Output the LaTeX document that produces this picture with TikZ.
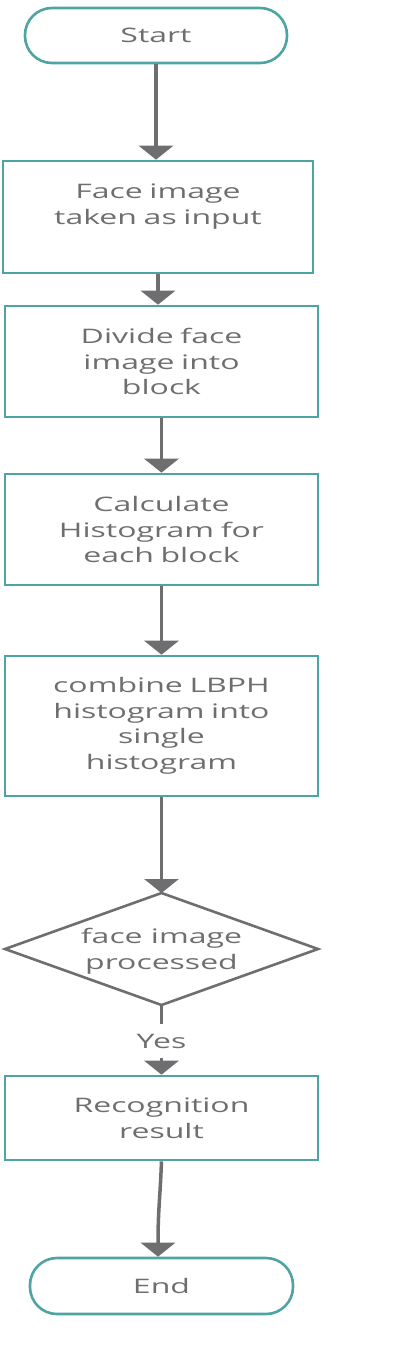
\documentclass[tikz,border=0pt]{standalone}
\usepackage{fontspec}
\setmainfont{Open Sans}[FakeStretch=1.6]
\usetikzlibrary{arrows.meta,positioning}
\definecolor{teal1}{RGB}{78,164,162}
\definecolor{greyline}{RGB}{110,110,112}
\definecolor{greytext}{RGB}{110,110,110}
\begin{document}
\begin{tikzpicture}[x=1pt,y=-1pt,
  every node/.style={font=\fontsize{20}{25.5}\selectfont, text=greytext, align=center},
  procbox/.style={draw=teal1, line width=2.6pt, minimum width=313pt, inner sep=0pt, text width=300pt},
  term/.style={draw=teal1, line width=2.6pt, rounded corners=27pt, inner sep=0pt},
  arr/.style={draw=greyline, line width=3.5pt, -{Triangle[width=34pt,length=14pt]}},
  conn/.style={draw=greyline, line width=3.5pt}
]
\useasboundingbox (0,0) rectangle (409,1371);
\node[term, minimum width=262pt, minimum height=55pt] (start) at (156,35.5) {Start};
\node[procbox, minimum width=310pt, minimum height=112pt] (b1) at (158,217) {Face image\\taken as input\\\mbox{}};
\node[procbox, minimum height=111pt] (b2) at (161.5,361.5) {Divide face\\image into\\block};
\node[procbox, minimum height=111pt] (b3) at (161.5,529.5) {Calculate\\Histogram for\\each block};
\node[procbox, minimum height=140pt] (b4) at (161.5,726) {combine LBPH\\histogram into\\single\\histogram};
\coordinate (dN) at (161.5,893);
\coordinate (dS) at (161.5,1005);
\coordinate (dW) at (5,949);
\coordinate (dE) at (318,949);
\draw[greyline, line width=2.6pt, line join=miter] (dN) -- (dE) -- (dS) -- (dW) -- cycle;
\node (dtext) at (161.5,951) {face image\\processed};
\node[minimum height=34pt, inner sep=0pt] (yes) at (161.5,1041) {Yes};
\node[procbox, minimum height=84pt] (b5) at (161.5,1118) {Recognition\\result};
\node[term, minimum width=263pt, minimum height=56pt] (end) at (161.5,1286) {End};
\draw[arr] (start.south) -- (b1.north -| start.south);
\draw[arr] (b1.south) -- (b2.north -| b1.south);
\draw[arr] (b2.south) -- (b3.north -| b2.south);
\draw[arr] (b3.south) -- (b4.north -| b3.south);
\draw[arr] (b4.south) -- (dN);
\draw[conn] (dS) -- (yes.north);
\draw[arr] (yes.south) -- (b5.north);
\draw[arr] (b5.south) .. controls (160,1200) and (158,1210) .. (end.north -| 158,0);
\end{tikzpicture}
\end{document}
